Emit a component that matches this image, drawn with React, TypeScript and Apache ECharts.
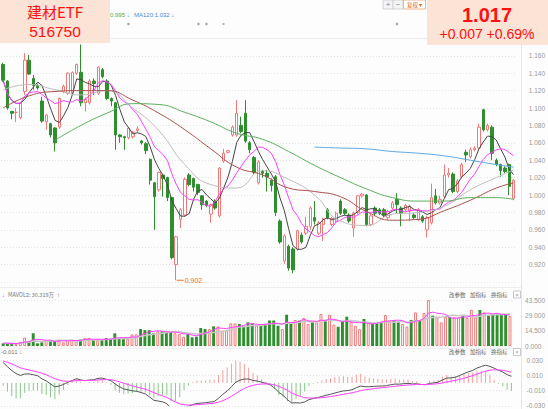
import React, { useEffect, useRef } from "react";
import * as echarts from "echarts";

const stockName = "建材ETF";
const stockCode = "516750";

const opens = [
  1.150, 1.131, 1.096, 1.095, 1.089, 1.119, 1.155, 1.134, 1.126, 1.108,
  1.084, 1.082, 1.077, 1.078, 1.119, 1.117, 1.117, 1.140, 1.141, 1.106,
  1.106, 1.131, 1.117, 1.144, 1.131, 1.111, 1.106, 1.069, 1.067, 1.066,
  1.067, 1.074, 1.062, 1.059, 1.041, 1.014, 1.006, 1.023, 1.020, 0.997,
  0.920, 0.972, 0.977, 1.023, 1.019, 1.012, 0.999, 0.993, 0.978, 0.993,
  0.976, 1.039, 1.049, 1.069, 1.069, 1.080, 1.094, 1.060, 1.043, 1.014,
  1.027, 1.025, 1.017, 1.021, 0.970, 0.924, 0.941, 0.938, 0.938, 0.954,
  0.956, 0.964, 0.974, 0.956, 0.966, 0.983, 0.966, 0.970, 0.993, 0.983,
  0.977, 0.962, 0.980, 0.999, 1.000, 0.966, 0.985, 0.983, 0.983, 0.974,
  0.985, 0.995, 0.985, 0.983, 0.981, 0.977, 0.972, 0.975, 0.960, 0.968,
  0.999, 0.991, 0.998, 1.023, 1.024, 1.004, 1.021, 1.049, 1.044, 1.052,
  1.054, 1.098, 1.075, 1.078, 1.040, 1.035, 1.031, 1.035, 0.996,
];
const closes = [
  1.132, 1.100, 1.094, 1.095, 1.106, 1.155, 1.139, 1.126, 1.123, 1.085,
  1.092, 1.069, 1.060, 1.111, 1.125, 1.140, 1.141, 1.150, 1.106, 1.110,
  1.131, 1.128, 1.147, 1.136, 1.111, 1.108, 1.069, 1.067, 1.066, 1.077,
  1.072, 1.076, 1.060, 1.051, 1.017, 0.998, 1.026, 1.019, 0.997, 0.928,
  0.952, 0.983, 1.018, 1.012, 1.009, 1.003, 0.989, 0.988, 0.989, 0.985,
  1.031, 1.048, 1.051, 1.078, 1.094, 1.073, 1.062, 1.052, 1.026, 1.038,
  1.025, 1.021, 1.011, 0.980, 0.946, 0.953, 0.916, 0.914, 0.959, 0.946,
  0.964, 0.985, 0.970, 0.968, 0.972, 0.974, 0.973, 0.979, 0.979, 0.979,
  0.970, 0.979, 0.999, 1.001, 0.966, 0.976, 0.979, 0.979, 0.977, 0.981,
  0.991, 0.989, 0.979, 0.988, 0.987, 0.974, 0.983, 0.970, 0.974, 0.997,
  0.991, 0.995, 1.023, 1.025, 1.004, 1.016, 1.035, 1.046, 1.052, 1.054,
  1.078, 1.075, 1.080, 1.048, 1.035, 1.028, 1.027, 1.010, 1.017,
];
const lows = [
  1.130, 1.098, 1.087, 1.084, 1.087, 1.115, 1.138, 1.121, 1.121, 1.083,
  1.075, 1.066, 1.050, 1.076, 1.117, 1.115, 1.115, 1.138, 1.102, 1.096,
  1.104, 1.115, 1.115, 1.134, 1.109, 1.102, 1.052, 1.060, 1.052, 1.064,
  1.065, 1.072, 1.058, 1.047, 1.012, 0.960, 1.004, 0.998, 0.993, 0.926,
  0.902, 0.962, 0.975, 1.010, 1.004, 1.000, 0.983, 0.986, 0.968, 0.983,
  0.974, 1.037, 1.048, 1.067, 1.067, 1.071, 1.060, 1.048, 1.024, 1.012,
  1.020, 1.004, 1.004, 0.976, 0.944, 0.921, 0.913, 0.910, 0.936, 0.944,
  0.954, 0.960, 0.966, 0.954, 0.947, 0.972, 0.964, 0.968, 0.977, 0.977,
  0.968, 0.952, 0.978, 0.997, 0.964, 0.964, 0.977, 0.977, 0.975, 0.972,
  0.983, 0.979, 0.964, 0.981, 0.970, 0.972, 0.970, 0.968, 0.951, 0.966,
  0.989, 0.989, 0.996, 1.020, 1.002, 1.002, 1.019, 1.038, 1.042, 1.050,
  1.052, 1.073, 1.073, 1.040, 1.033, 1.021, 1.025, 1.000, 0.994,
];
const highs = [
  1.152, 1.132, 1.097, 1.100, 1.107, 1.163, 1.161, 1.138, 1.128, 1.113,
  1.093, 1.083, 1.078, 1.112, 1.127, 1.141, 1.142, 1.151, 1.173, 1.112,
  1.133, 1.134, 1.148, 1.146, 1.133, 1.112, 1.107, 1.070, 1.068, 1.078,
  1.074, 1.079, 1.063, 1.061, 1.042, 1.015, 1.027, 1.024, 1.021, 0.998,
  0.953, 0.985, 1.020, 1.025, 1.020, 1.013, 1.000, 0.994, 0.990, 0.995,
  1.032, 1.053, 1.052, 1.080, 1.109, 1.090, 1.109, 1.062, 1.045, 1.040,
  1.029, 1.029, 1.019, 1.023, 0.972, 0.955, 0.943, 0.940, 0.960, 0.957,
  0.975, 0.987, 0.993, 0.970, 0.974, 0.985, 0.975, 0.981, 0.995, 0.985,
  0.979, 0.981, 1.000, 1.002, 1.001, 0.978, 0.987, 0.985, 0.985, 0.983,
  0.993, 1.002, 0.987, 0.990, 0.989, 0.979, 0.985, 0.977, 0.976, 1.013,
  1.007, 0.999, 1.035, 1.031, 1.026, 1.018, 1.037, 1.052, 1.055, 1.056,
  1.082, 1.099, 1.082, 1.080, 1.042, 1.036, 1.033, 1.036, 1.018,
];
// volume, in 万
const volumes = [
  2.5, 2.8, 2, 2, 4, 8, 4, 12, 2.5, 3.5,
  5, 5, 5, 5.5, 3.5, 5.5, 6, 5.5, 6, 7.5,
  7.5, 5.5, 5.5, 5.5, 7.5, 7, 12, 7, 6.5, 6.5,
  11, 11, 16, 15, 15, 12, 13.9, 13.9, 12.9, 12.9,
  12, 11.3, 8.8, 11.3, 8.2, 8.8, 17, 16, 16, 18.6,
  18.6, 14.5, 14.5, 21.4, 21.4, 20.8, 19.2, 22.4, 21.4, 19.2,
  19.2, 20.8, 24, 24, 19.2, 16, 29.6, 22.4, 24.6, 24,
  26.5, 20.8, 22.4, 22.4, 30.2, 23.3, 29.6, 20.2, 18.3, 23.3,
  27.7, 23.3, 19.2, 16, 25.5, 22.4, 21.4, 21.4, 22.4, 29.3,
  24, 24, 22.4, 20.8, 18.3, 24.6, 31.8, 24.6, 31.2, 43.5,
  28.7, 27.1, 22.4, 27.7, 27.1, 27.1, 27.1, 28.7, 26.5, 34.3,
  27.1, 34, 31.8, 28.7, 30.2, 30.2, 29, 29.6, 28.29,
];

// long moving averages at these candle indices
const sampleIdx = [0, 6, 12, 18, 24, 30, 36, 42, 48, 54, 60, 66, 72, 78, 84, 90, 96, 102, 108, 114, 118];
const ma20Read = [1.121, 1.127, 1.121, 1.115, 1.120, 1.100, 1.074, 1.035, 1.012, 1.008, 1.028, 1.018, 1.000, 0.970, 0.965, 0.978, 0.980, 0.987, 1.006, 1.020, 1.029];
const ma30Read = [1.100, 1.114, 1.119, 1.120, 1.120, 1.109, 1.094, 1.075, 1.053, 1.032, 1.023, 1.008, 1.004, 0.998, 0.981, 0.971, 0.972, 0.982, 0.994, 1.008, 1.014];
const ma60Read = [null, null, 1.063, 1.080, 1.094, 1.105, 1.104, 1.095, 1.084, 1.071, 1.064, 1.050, 1.034, 1.020, 1.007, 0.997, 0.993, 0.993, 0.997, 0.997, 0.995];
const ma120Read = [null, null, null, null, null, null, null, null, null, null, null, null, 1.055, 1.054, 1.053, 1.050, 1.048, 1.045, 1.040, 1.035, 1.032];

// MACD state at the left edge
const macdStartEma12 = 1.146;
const macdStartEma26 = 1.116;
const macdStartDea = 0.029;

const FONT = '"Liberation Sans", "Noto Sans CJK SC", sans-serif';
const CJK = '"Noto Sans CJK SC", "Liberation Sans", sans-serif';
const UP = "#f07a7a";
const DOWN = "#2f8f2f";

function movingAvg(src: number[], n: number) {
  return src.map((_, i) => {
    const s = Math.max(0, i - n + 1);
    let sum = 0;
    for (let k = s; k <= i; k++) sum += src[k];
    return +(sum / (i - s + 1)).toFixed(4);
  });
}
function sampled(vals: (number | null)[]) {
  const out: [number, number][] = [];
  vals.forEach((v, j) => {
    if (v != null) out.push([sampleIdx[j], v]);
  });
  return out;
}

export default function App() {
  const ref = useRef<HTMLDivElement>(null);
  useEffect(() => {
    if (!ref.current) return;
    const chart = echarts.init(ref.current, undefined, { renderer: "svg" });
    const N = closes.length;
    const cats = closes.map((_, i) => String(i + 1));
    const kData = closes.map((c, i) => [opens[i], c, lows[i], highs[i]]);
    const ma5 = movingAvg(closes, 5);
    const ma10 = movingAvg(closes, 10);
    const vma5 = movingAvg(volumes, 5);
    const vma10 = movingAvg(volumes, 10);

    let e12 = macdStartEma12, e26 = macdStartEma26, dea = macdStartDea;
    const difArr: number[] = [], deaArr: number[] = [], hist: number[] = [];
    closes.forEach((c) => {
      e12 = (e12 * 11) / 13 + (c * 2) / 13;
      e26 = (e26 * 25) / 27 + (c * 2) / 27;
      const d = e12 - e26;
      dea = (dea * 8) / 10 + (d * 2) / 10;
      difArr.push(+d.toFixed(5));
      deaArr.push(+dea.toFixed(5));
      hist.push(+(2 * (d - dea)).toFixed(5));
    });

    const last = closes[N - 1];
    const prev = closes[N - 2];
    const chg = last - prev;
    const pct = (chg / prev) * 100;
    const minLow = Math.min(...lows);
    const minIdx = lows.indexOf(minLow);
    const ma60Last = ma60Read[ma60Read.length - 1] as number;
    const ma120Last = ma120Read[ma120Read.length - 1] as number;

    const axisLbl = { color: "#999", fontSize: 6.5, fontFamily: FONT, margin: 13 };
    const split = { show: true, lineStyle: { color: "#e4e4e4", type: [1, 2] as any, width: 1 } };
    const xBase = (gi: number) => ({
      type: "category" as const,
      gridIndex: gi,
      data: cats,
      boundaryGap: true,
      axisLine: { show: false },
      axisTick: { show: false },
      axisLabel: { show: false },
      splitLine: { show: false },
    });

    const text = (x: number, y: number, t: string, fill: string, font: string, align = "left") => ({
      type: "text",
      x,
      y,
      silent: true,
      style: { text: t, fill, font, align, verticalAlign: "middle" },
    });
    const btns = (y: number) => [
      text(449, y, "改参数", "#666", `5.5px ${CJK}`),
      text(470, y, "加指标", "#666", `5.5px ${CJK}`),
      text(491, y, "换指标", "#666", `5.5px ${CJK}`),
      { type: "rect", shape: { x: 513.5, y: y - 3.5, width: 7, height: 7 }, style: { fill: "#fff", stroke: "#bbb", lineWidth: 0.8 } },
      text(517, y, "×", "#999", `6px ${FONT}`, "center"),
    ];

    chart.setOption({
      animation: false,
      backgroundColor: "#fdfdfd",
      grid: [
        { left: 1, right: 31.5, top: 38.4, height: 243.6 },
        { left: 1, right: 31.5, top: 300, height: 46 },
        { left: 1, right: 31.5, top: 360, height: 48 },
      ],
      xAxis: [xBase(0), xBase(1), xBase(2)],
      yAxis: [
        {
          type: "value", gridIndex: 0, position: "right", min: 0.9, max: 1.18, interval: 0.02,
          axisLine: { show: false }, axisTick: { show: false }, splitLine: split,
          axisLabel: { ...axisLbl, showMinLabel: false, showMaxLabel: false, formatter: (v: number) => v.toFixed(3) },
        },
        {
          type: "value", gridIndex: 1, position: "right", min: 0, max: 43.5, interval: 14.5,
          axisLine: { show: false }, axisTick: { show: false }, splitLine: split,
          axisLabel: { ...axisLbl, formatter: (v: number) => v.toFixed(3) },
        },
        {
          type: "value", gridIndex: 2, position: "right", min: -0.03, max: 0.03, interval: 0.02,
          axisLine: { show: false }, axisTick: { show: false }, splitLine: split,
          axisLabel: { ...axisLbl, formatter: (v: number) => v.toFixed(3) },
        },
      ],
      series: [
        {
          type: "candlestick", xAxisIndex: 0, yAxisIndex: 0, data: kData, barWidth: "68%",
          itemStyle: { color: "#ffffff", color0: DOWN, borderColor: UP, borderColor0: DOWN, borderWidth: 1 },
          markPoint: {
            symbol: "rect", symbolSize: [7, 1], symbolOffset: [4, 0], silent: true,
            itemStyle: { color: "#f07020" },
            label: { show: true, position: "right", distance: 1, color: "#f07020", fontSize: 7, fontFamily: FONT, formatter: minLow.toFixed(3) },
            data: [{ coord: [minIdx, minLow] }],
          },
        },
        { type: "line", xAxisIndex: 0, yAxisIndex: 0, data: ma5, showSymbol: false, lineStyle: { color: "#444", width: 1 } },
        { type: "line", xAxisIndex: 0, yAxisIndex: 0, data: ma10, showSymbol: false, lineStyle: { color: "#ff40ff", width: 1 } },
        { type: "line", xAxisIndex: 0, yAxisIndex: 0, data: sampled(ma20Read), smooth: true, showSymbol: false, lineStyle: { color: "#bdbdbd", width: 1 } },
        { type: "line", xAxisIndex: 0, yAxisIndex: 0, data: sampled(ma30Read), smooth: true, showSymbol: false, lineStyle: { color: "#a8524c", width: 1 } },
        { type: "line", xAxisIndex: 0, yAxisIndex: 0, data: sampled(ma60Read), smooth: true, showSymbol: false, lineStyle: { color: "#5cb05c", width: 1 } },
        { type: "line", xAxisIndex: 0, yAxisIndex: 0, data: sampled(ma120Read), smooth: true, showSymbol: false, lineStyle: { color: "#5aa8e8", width: 1 } },
        {
          type: "bar", xAxisIndex: 1, yAxisIndex: 1, barWidth: "68%",
          data: volumes.map((v, i) => ({
            value: v,
            itemStyle: closes[i] >= opens[i]
              ? { color: "#ffffff", borderColor: UP, borderWidth: 1 }
              : { color: DOWN, borderColor: DOWN, borderWidth: 0 },
          })),
        },
        { type: "line", xAxisIndex: 1, yAxisIndex: 1, data: vma10, showSymbol: false, lineStyle: { color: "#c8c8c8", width: 1.5 } },
        { type: "line", xAxisIndex: 1, yAxisIndex: 1, data: vma5, showSymbol: false, lineStyle: { color: "#ff40ff", width: 1 } },
        {
          type: "bar", xAxisIndex: 2, yAxisIndex: 2, barWidth: 1,
          data: hist.map((h) => ({ value: h, itemStyle: { color: h >= 0 ? "#f2a0a0" : "#8cc68c" } })),
        },
        { type: "line", xAxisIndex: 2, yAxisIndex: 2, data: difArr, showSymbol: false, lineStyle: { color: "#555", width: 1 } },
        { type: "line", xAxisIndex: 2, yAxisIndex: 2, data: deaArr, showSymbol: false, lineStyle: { color: "#ff40ff", width: 1 } },
      ],
      graphic: [
        { type: "line", silent: true, shape: { x1: 0, y1: 38.5, x2: 548, y2: 38.5 }, style: { stroke: "#eeeeee", lineWidth: 1 } },
        { type: "line", silent: true, shape: { x1: 521.5, y1: 38, x2: 521.5, y2: 409 }, style: { stroke: "#e6e6e6", lineWidth: 1 } },
        { type: "line", silent: true, shape: { x1: 0, y1: 287.5, x2: 521, y2: 287.5 }, style: { stroke: "#eeeeee", lineWidth: 1 } },
        { type: "line", silent: true, shape: { x1: 0, y1: 348.5, x2: 521, y2: 348.5 }, style: { stroke: "#eeeeee", lineWidth: 1 } },
        // header left box
        { type: "rect", silent: true, shape: { x: 0, y: 0, width: 110, height: 43 }, style: { fill: "#fbe4d6" } },
        text(55, 11, stockName, "#ff1010", `15px ${CJK}`, "center"),
        text(55, 31, stockCode, "#ff1010", `15.5px ${FONT}`, "center"),
        // header right box
        { type: "rect", silent: true, shape: { x: 427, y: 0, width: 121, height: 45 }, style: { fill: "#fbe4d6" } },
        text(487, 14.5, last.toFixed(3), "#ff1010", `bold 20px ${FONT}`, "center"),
        text(487, 33.5, `${chg >= 0 ? "+" : ""}${chg.toFixed(3)} ${pct >= 0 ? "+" : ""}${pct.toFixed(2)}%`, "#ff1010", `14px ${FONT}`, "center"),
        // toolbar
        { type: "rect", silent: true, shape: { x: 383, y: 0, width: 10, height: 9 }, style: { fill: "#f4f4f4", stroke: "#cccccc", lineWidth: 0.8 } },
        text(388, 4.5, "+", "#888", `8px ${FONT}`, "center"),
        { type: "rect", silent: true, shape: { x: 393, y: 0, width: 10, height: 9 }, style: { fill: "#f4f4f4", stroke: "#cccccc", lineWidth: 0.8 } },
        text(398, 4.5, "−", "#888", `8px ${FONT}`, "center"),
        { type: "rect", silent: true, shape: { x: 403.5, y: 0, width: 22, height: 9 }, style: { fill: "#ffffff", stroke: "#f0a070", lineWidth: 0.8 } },
        text(414.5, 4.5, "复权 ▾", "#e06010", `5.5px ${CJK}`, "center"),
        // MA legend
        text(110, 15, `${ma60Last.toFixed(3)} ↓`, "#4caf50", `6px ${FONT}`),
        text(134, 15, `MA120:${ma120Last.toFixed(3)} ↓`, "#3d8fd6", `6px ${FONT}`),
        { type: "circle", silent: true, shape: { cx: 128.5, cy: 24, r: 1.3 }, style: { fill: "#aaa" } },
        { type: "circle", silent: true, shape: { cx: 198.5, cy: 24, r: 1.3 }, style: { fill: "#aaa" } },
        { type: "circle", silent: true, shape: { cx: 206.5, cy: 24, r: 1.3 }, style: { fill: "#aaa" } },
        { type: "circle", silent: true, shape: { cx: 223.5, cy: 24, r: 1.1 }, style: { fill: "#aaa" } },
        { type: "circle", silent: true, shape: { cx: 397, cy: 24, r: 1.3 }, style: { fill: "#aaa" } },
        // volume header
        text(2, 294.5, "↓", "#ff40ff", `6px ${FONT}`),
        text(8, 294.5, `MAVOL2: ${vma10[N - 1].toFixed(3)}万`, "#777", `5.5px ${CJK}`),
        text(57, 294.5, "↑", "#777", `6px ${FONT}`),
        ...btns(294.5),
        // macd header
        text(1, 352, `${hist[N - 1].toFixed(3)} ↓`, "#777", `6px ${FONT}`),
        ...btns(352),
      ],
    } as any);
    return () => chart.dispose();
  }, []);
  return <div ref={ref} style={{ position: "absolute", left: 0, top: 0, width: 548, height: 409 }} />;
}
